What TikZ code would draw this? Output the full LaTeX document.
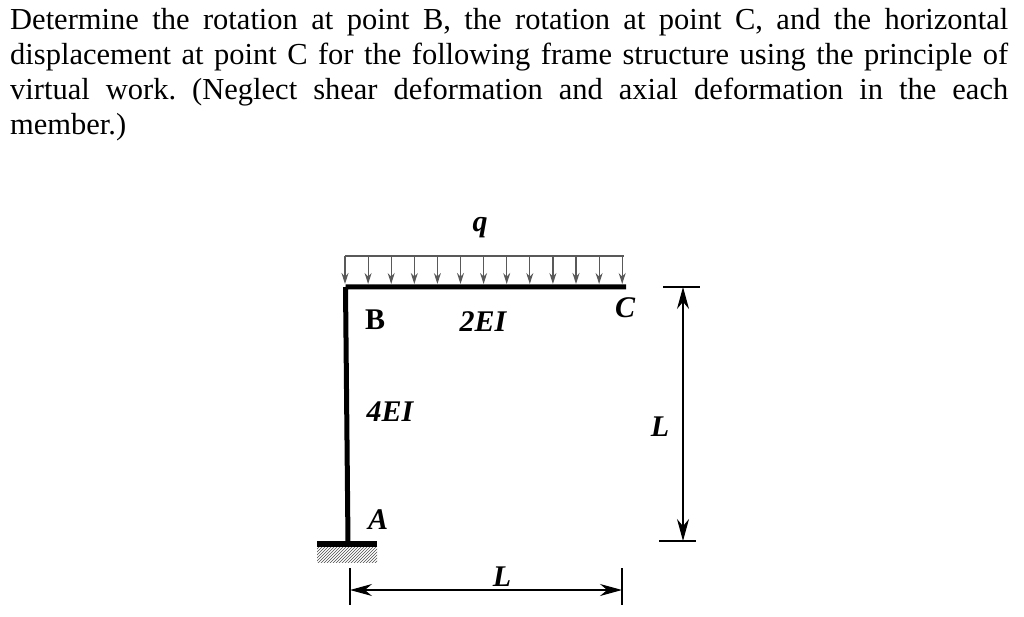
\documentclass[tikz,border=0pt]{standalone}
\usepackage{fontspec}
\setmainfont{Liberation Serif}
\usetikzlibrary{patterns,arrows.meta}
\begin{document}
\begin{tikzpicture}[x=1pt,y=-1pt,
  lbl/.style={font=\fontsize{30}{32}\selectfont\bfseries\itshape, inner sep=0pt},
  load/.style={draw=black!65, line width=1.2pt, -{Stealth[length=11pt,width=7pt]}},
  dim/.style={line width=1.2pt, {Stealth[length=22pt,width=12pt]}-{Stealth[length=22pt,width=12pt]}},
  tick/.style={line width=1.2pt}]
\useasboundingbox (0,0) rectangle (1024,617);
\node[anchor=north west, inner sep=0pt, text width=998pt, align=justify,
  font=\fontsize{30.5}{35}\selectfont] (txt) at (10,8)
 {\frenchspacing\hyphenpenalty=10000 Determine the rotation at point B, the rotation at point C, and the horizontal\linebreak displacement at point C for the following frame structure using the principle of\linebreak virtual work. (Neglect shear deformation and axial deformation in the each\linebreak member.)};
\coordinate (A) at (348,543);
\coordinate (B) at (348,287);
\coordinate (C) at (626,287);
\draw[line width=5pt] (A) -- (345.5,287) (B) ++(-2.5,0) -- (C);
\fill[pattern=north east lines, pattern color=black!70] (317,546) rectangle (377,562);
\draw[line width=6pt] (317,544) -- (377,544);
\draw[black!65, line width=1.2pt] (345,256) -- (624,256);
\foreach \i in {0,...,12} \draw[load] ({345+\i*23.1},256) -- ({345+\i*23.1},284);
\node[lbl] (q) at (480,228) {q};
\node[inner sep=0pt, font=\fontsize{30}{32}\selectfont\bfseries] (Bl) at (375,320) {B};
\node[lbl] (ei2) at (483,322) {2EI};
\node[lbl] (Cl) at (625,308) {C};
\node[lbl] (ei4) at (390,412) {4EI};
\node[lbl] (Al) at (378,520) {A};
\node[lbl] (L1) at (660,427) {L};
\node[lbl] (L2) at (502,577) {L};
\coordinate (h1) at (350,590); \coordinate (h2) at (622,590);
\draw[tick] (350,568) -- (350,605) (622,568) -- (622,605);
\draw[dim] (h1) -- (h2);
\coordinate (v1) at (683,287); \coordinate (v2) at (683,541);
\draw[tick] (663,287) -- (700,287) (659,541) -- (696,541);
\draw[dim] (v1) -- (v2);
\end{tikzpicture}
\end{document}
